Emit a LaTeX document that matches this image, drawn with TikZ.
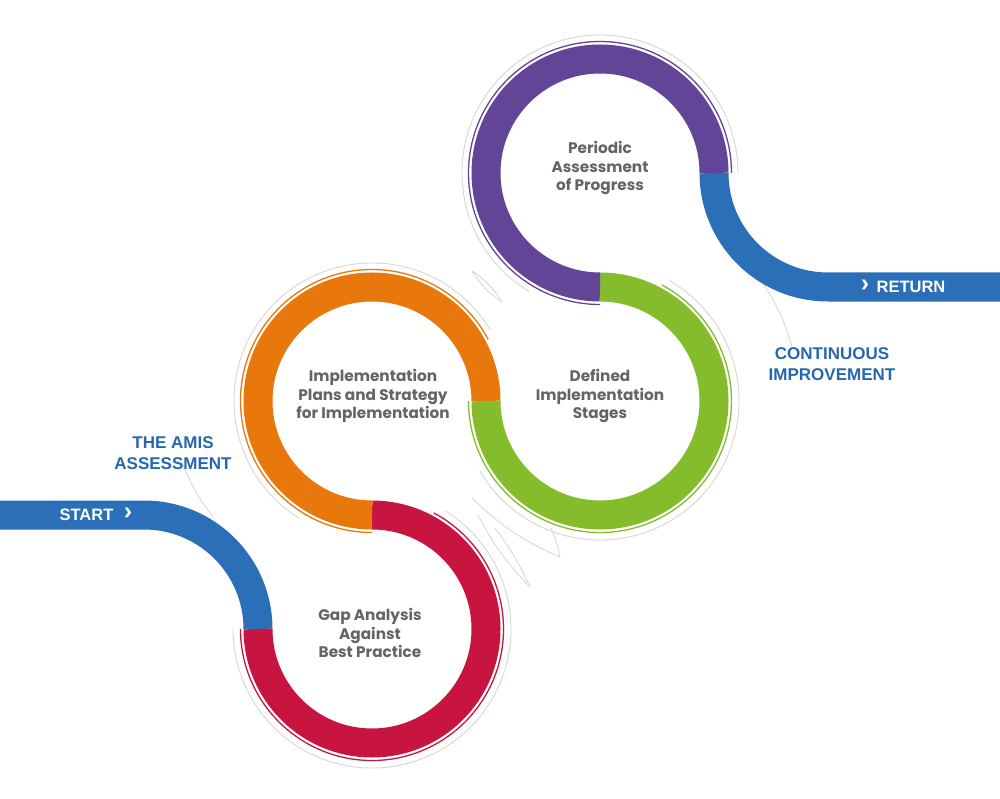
\documentclass[tikz,border=0pt]{standalone}
\usepackage{fontspec}
\newfontfamily\popf{Poppins}
\newfontfamily\libf{Liberation Sans}
\definecolor{cblue}{HTML}{2A6FB7}
\definecolor{cred}{HTML}{C8153F}
\definecolor{corange}{HTML}{E8770C}
\definecolor{cgreen}{HTML}{85BC2B}
\definecolor{cpurple}{HTML}{634597}
\definecolor{ctext}{HTML}{646464}
\definecolor{clabel}{HTML}{2767B0}
\definecolor{cring}{HTML}{D6D6D6}
\begin{document}
\begin{tikzpicture}[x=1pt,y=1pt,
  band/.style={line width=29pt},
  trim/.style={line width=1.3pt},
  ring/.style={draw=cring,line width=0.9pt},
  faint/.style={draw=cring,line width=0.8pt},
  innertext/.style={font=\popf\bfseries\fontsize{15.3}{18.6}\selectfont, text=ctext, align=center},
  outertext/.style={font=\libf\bfseries\fontsize{17}{20.5}\selectfont, text=clabel, align=center},
  bartext/.style={font=\libf\bfseries\fontsize{16.5}{20}\selectfont, text=white, inner sep=0pt},
  chevron/.style={font=\libf\bfseries\fontsize{25}{25}\selectfont, text=white, inner sep=0pt},
]
\fill[white] (0,0) rectangle (1000,-799);
\useasboundingbox (0,0) rectangle (1000,-799);

% centres
\coordinate (cS) at (144,-629);
\coordinate (cR) at (372,-629);
\coordinate (cO) at (372,-401);
\coordinate (cG) at (600,-401);
\coordinate (cP) at (600,-173);
\coordinate (cE) at (828,-173);
\coordinate (sL) at (0,-515);
\coordinate (eR) at (1000,-287);

% grey outer rings
\draw[ring] (cR) ++(180:139) arc[start angle=180,end angle=418,radius=139];
\draw[ring] (cO) ++(238:138) arc[start angle=238,end angle=31,radius=138];
\draw[ring] (cG) ++(210:139) arc[start angle=210,end angle=420,radius=139];
\draw[ring] (cP) ++(239:138) arc[start angle=239,end angle=0,radius=138];

% faint streaks
\coordinate (f1a) at (182,-462); \coordinate (f1b) at (213,-517);
\coordinate (f2a) at (763,-283); \coordinate (f2b) at (792,-347);
\coordinate (f3a) at (472,-271); \coordinate (f3b) at (502,-302);
\coordinate (f4a) at (472,-498); \coordinate (f4b) at (560,-557);
\coordinate (f4c) at (551,-528);
\coordinate (f5a) at (478,-515); \coordinate (f5b) at (530,-587);
\coordinate (f5c) at (495,-528);
\draw[faint] (f1a) to[bend right=8] (f1b);
\draw[faint] (f2a) to[bend left=8] (f2b);
\draw[faint] (f3a) to[bend left=12] (f3b);
\draw[faint] (f3a) to[bend right=12] (f3b);
\draw[faint] (f4a) to[bend right=10] (f4b);
\draw[faint] (f4c) to[bend left=6] (f4b);
\draw[faint] (f5a) to[bend right=8] (f5b);
\draw[faint] (f5c) to[bend left=6] (f5b);

% coloured trims
\draw[trim,cred] (cR) ++(180:131.5) arc[start angle=180,end angle=422,radius=131.5];
\draw[trim,corange] (cO) ++(270:131.5) arc[start angle=270,end angle=28,radius=131.5];
\draw[trim,cgreen] (cG) ++(180:131.5) arc[start angle=180,end angle=422,radius=131.5];
\draw[trim,cpurple] (cP) ++(270:131.5) arc[start angle=270,end angle=0,radius=131.5];

% bands
\draw[band,cblue] (sL) -- (144,-515) arc[start angle=90,end angle=0,radius=114];
\draw[band,cred] (cR) ++(180:114) arc[start angle=180,end angle=450,radius=114];
\draw[band,corange] (cO) ++(270:114) arc[start angle=270,end angle=0,radius=114];
\draw[band,cgreen] (cG) ++(180:114) arc[start angle=180,end angle=450,radius=114];
\draw[band,cpurple] (cP) ++(270:114) arc[start angle=270,end angle=0,radius=114];
\draw[band,cblue] (cE) ++(180:114) arc[start angle=180,end angle=270,radius=114] -- (eR);

% texts
\node[innertext] (tP) at (600,-168) {Periodic\\Assessment\\of Progress};
\node[innertext] (tG) at (600,-396) {Defined\\Implementation\\Stages};
\node[innertext] (tO) at (373,-396) {Implementation\\Plans and Strategy\\for Implementation};
\node[innertext] (tR) at (370,-633) {Gap Analysis\\Against\\Best Practice};

\node[outertext] (lA) at (173,-453) {THE AMIS\\ASSESSMENT};
\node[outertext] (lC) at (832,-364) {CONTINUOUS\\IMPROVEMENT};

\node[bartext] (st) at (86.5,-515) {START};
\node[chevron] (stc) at (128,-514) {›};
\node[chevron] (rtc) at (865,-286) {›};
\node[bartext] (rt) at (911,-287) {RETURN};
\end{tikzpicture}
\end{document}
